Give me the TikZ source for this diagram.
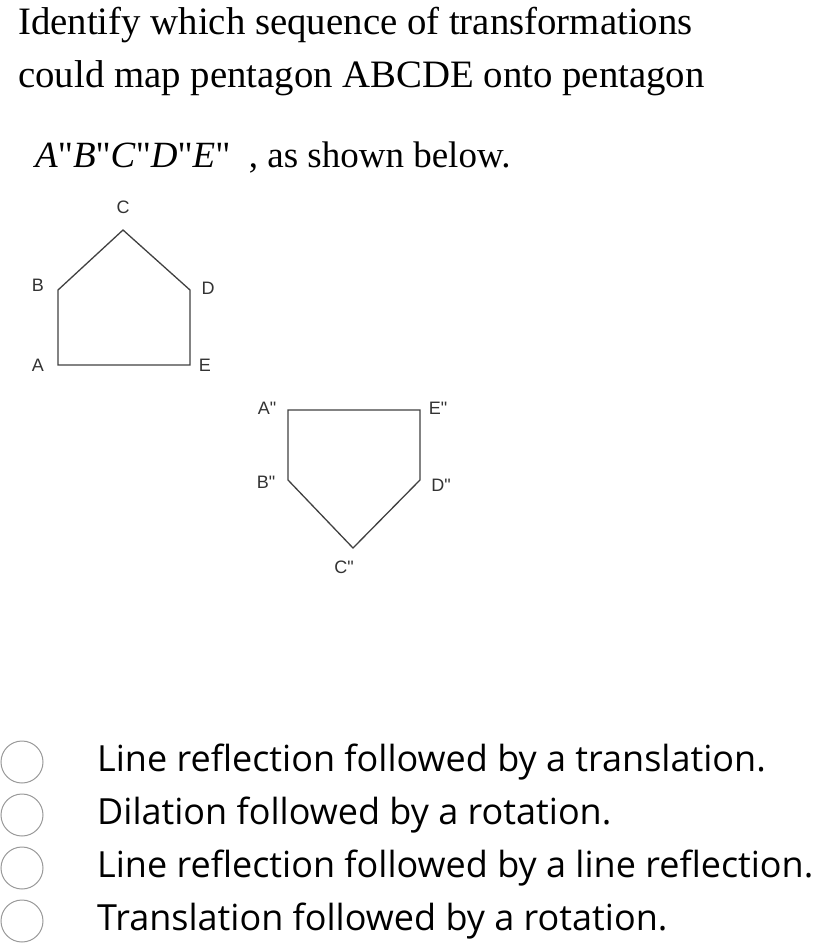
\documentclass[tikz,border=0pt]{standalone}
\usepackage{fontspec}
\setmainfont{Liberation Serif}
\newfontfamily\lab{Liberation Sans}
\newfontfamily\opt{Open Sans}
\begin{document}
\begin{tikzpicture}[x=1pt,y=-1pt,
  poly/.style={draw=black!75,line width=1.3pt,line join=miter},
  lbl/.style={font=\lab\fontsize{18}{19}\selectfont,text=black!80,inner sep=0pt},
  title/.style={anchor=west,inner sep=0pt,font=\fontsize{38.8}{40}\selectfont},
  optx/.style={anchor=west,inner sep=0pt,font=\opt\fontsize{36}{38}\selectfont},
  radio/.style={draw=black!40,line width=1pt,circle,minimum size=42pt,inner sep=0pt}]
\useasboundingbox (0,0) rectangle (817,950);
\node[title] (t1) at (18,25) {Identify which sequence of transformations};
\node[title] (t2) at (18,78) {could map pentagon ABCDE onto pentagon};
\node[title,font=\fontsize{37}{39}\selectfont] (t3) at (35,158) {\textit{A}\textquotedbl\textit{B}\textquotedbl\textit{C}\textquotedbl\textit{D}\textquotedbl\textit{E}\textquotedbl\ \ , as shown below.};
% pentagon 1
\coordinate (A) at (58,365); \coordinate (B) at (58,290); \coordinate (C) at (123,230);
\coordinate (D) at (190,290); \coordinate (E) at (190,365);
\draw[poly] (A)--(B)--(C)--(D)--(E)--cycle;
\node[lbl] (lc) at (123,207) {C};
\node[lbl] (lb) at (38,285) {B};
\node[lbl] (ld) at (208,288) {D};
\node[lbl] (la) at (38,365) {A};
\node[lbl] (le) at (205,365) {E};
% pentagon 2
\coordinate (A2) at (288,410); \coordinate (E2) at (420,410); \coordinate (D2) at (420,480);
\coordinate (C2) at (353,548); \coordinate (B2) at (288,480);
\draw[poly] (A2)--(E2)--(D2)--(C2)--(B2)--cycle;
\node[lbl] (la2) at (267,408) {A\textquotedbl};
\node[lbl] (le2) at (438,408) {E\textquotedbl};
\node[lbl] (lb2) at (266,482) {B\textquotedbl};
\node[lbl] (ld2) at (441,485) {D\textquotedbl};
\node[lbl] (lc2) at (344,567) {C\textquotedbl};
% options
\foreach \y/\t [count=\i] in {762/Line reflection followed by a translation.,
  815/Dilation followed by a rotation.,
  868/Line reflection followed by a line reflection.,
  921/Translation followed by a rotation.}{
  \node[radio] (r\i) at (22,\y) {};
  \node[optx] (o\i) at (97,\y) {\t};
}
\end{tikzpicture}
\end{document}
